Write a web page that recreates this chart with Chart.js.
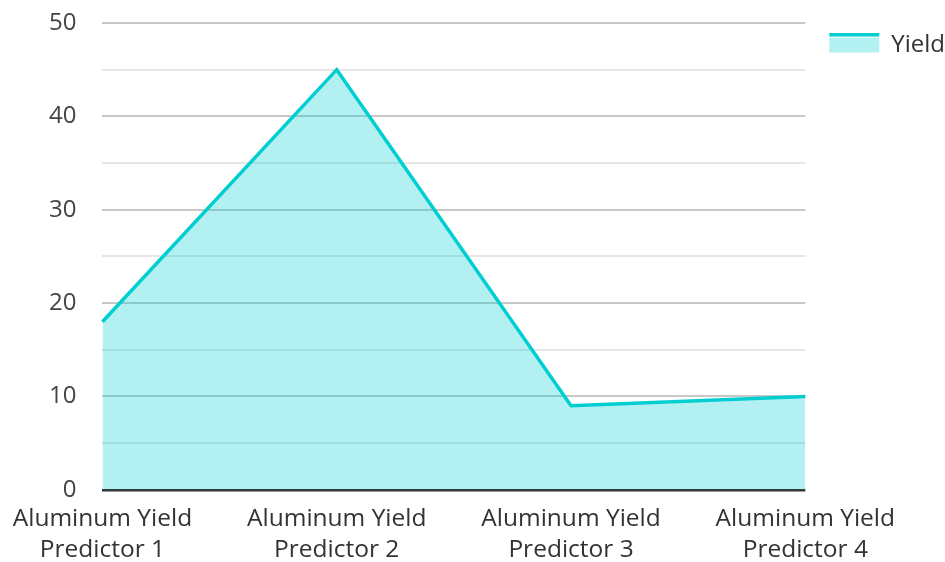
<!DOCTYPE html>
<html>
<head>
<meta charset="utf-8">
<script src="https://cdn.jsdelivr.net/npm/chart.js@4"></script>
<style>
  html, body { margin: 0; padding: 0; background: #fff; }
  #wrap { width: 945px; height: 562px; }
</style>
</head>
<body>
<div id="wrap"><canvas id="myChart"></canvas></div>
<script>
const categories = [
  ['Aluminum Yield', 'Predictor 1'],
  ['Aluminum Yield', 'Predictor 2'],
  ['Aluminum Yield', 'Predictor 3'],
  ['Aluminum Yield', 'Predictor 4']
];
const yieldValues = [18, 45, 9, 10];
const seriesName = 'Yield';

// legend box: fill with a line on top, like the original
const legendLine = {
  id: 'legendLine',
  afterDraw(chart) {
    const legend = chart.legend;
    if (!legend || !legend.legendHitBoxes) return;
    const ctx = chart.ctx;
    legend.legendHitBoxes.forEach((box) => {
      ctx.save();
      ctx.strokeStyle = '#00ced1';
      ctx.lineWidth = 3.5;
      ctx.beginPath();
      ctx.moveTo(box.left, box.top + 1.75);
      ctx.lineTo(box.left + 50, box.top + 1.75);
      ctx.stroke();
      ctx.restore();
    });
  }
};

Chart.defaults.font.family = '"Open Sans", sans-serif';
Chart.defaults.color = '#333';

new Chart(document.querySelector('#myChart'), {
  type: 'line',
  data: {
    labels: categories,
    datasets: [{
      label: seriesName,
      data: yieldValues,
      borderColor: '#00ced1',
      backgroundColor: 'rgba(0, 206, 209, 0.3)',
      borderWidth: 3.5,
      fill: 'origin',
      tension: 0,
      pointRadius: 0
    }]
  },
  options: {
    responsive: true,
    maintainAspectRatio: false,
    animation: false,
    layout: { padding: { top: 0, left: 23, right: -10, bottom: -10 } },
    plugins: {
      tooltip: { enabled: false },
      legend: {
        position: 'right',
        align: 'start',
        title: { display: true, text: ' ', font: { size: 7.5 }, padding: 0 },
        labels: {
          boxWidth: 50,
          boxHeight: 15,
          padding: 24,
          font: { size: 24 },
          color: '#333',
          generateLabels(chart) {
            return [{
              text: seriesName,
              fillStyle: 'rgba(0, 206, 209, 0.3)',
              strokeStyle: 'rgba(0,0,0,0)',
              lineWidth: 0,
              datasetIndex: 0
            }];
          }
        }
      }
    },
    scales: {
      x: {
        offset: false,
        grid: { display: false },
        border: { display: false },
        afterFit: (scale) => {
          scale.paddingLeft = 0;
          scale.paddingRight = 0;
        },
        ticks: { font: { size: 24.5, lineHeight: 1.27 }, color: '#333', maxRotation: 0, padding: 6 }
      },
      y: {
        min: 0,
        max: 50,
        border: { display: false },
        afterFit: (scale) => {
          scale.paddingTop = 23;
          scale.paddingBottom = 0;
        },
        grid: {
          drawTicks: false,
          color: (ctx) => {
            const v = ctx.tick.value;
            if (v === 0) return '#333';
            return v % 10 === 0 ? '#c8c8c8' : '#e6e6e6';
          },
          lineWidth: (ctx) => (ctx.tick.value === 0 ? 2.5 : 2)
        },
        ticks: {
          stepSize: 5,
          padding: 26,
          font: { size: 24 },
          color: '#444',
          callback: (v) => (v % 10 === 0 ? String(v) : '')
        }
      }
    }
  },
  plugins: [legendLine]
});
</script>
</body>
</html>
